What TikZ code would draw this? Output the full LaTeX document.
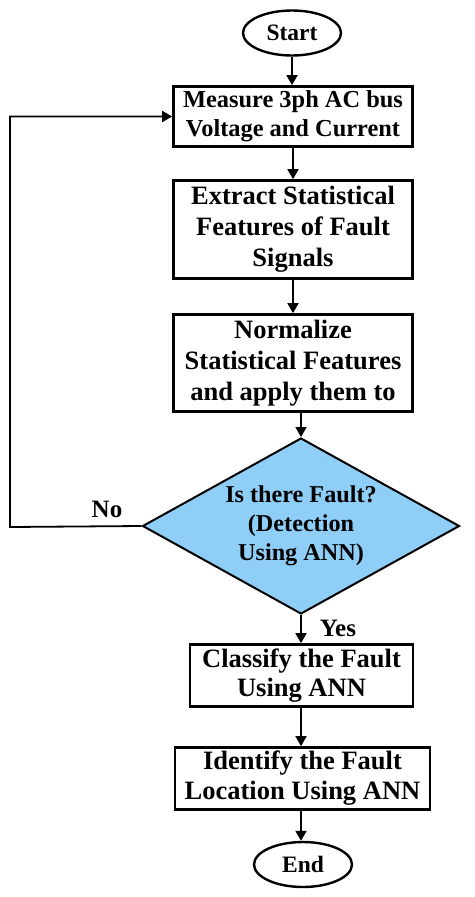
\documentclass[tikz,border=0pt]{standalone}
\usepackage{fontspec}
\setmainfont{Liberation Serif}
\usetikzlibrary{shapes.geometric,arrows.meta}
\definecolor{dfill}{RGB}{143,206,247}
\begin{document}
\begin{tikzpicture}[x=1pt,y=-1pt,
  box/.style={draw, line width=2.7pt, rectangle, inner sep=0pt, align=center},
  term/.style={draw, ellipse, line width=2.4pt, inner sep=0pt, minimum width=98pt, minimum height=45pt,
    font=\bfseries\fontsize{23.5}{28}\selectfont},
  arr/.style={line width=1.8pt, -{Triangle[length=10pt,width=11pt]}},
  lbl/.style={font=\bfseries\fontsize{25}{30}\selectfont, inner sep=0pt}]
\useasboundingbox (0,0) rectangle (474,897);

\node[term] (start) at (292,33) {Start};
\node[box, minimum width=239pt, minimum height=60pt, font=\bfseries\fontsize{24.4}{29}\selectfont]
  (b1) at (293,116.5) {Measure 3ph AC bus\\Voltage and Current};
\node[box, minimum width=239pt, minimum height=98pt, font=\bfseries\fontsize{26.5}{31}\selectfont]
  (b2) at (293,229.5) {Extract Statistical\\Features of Fault\\Signals};
\node[box, minimum width=239pt, minimum height=97pt, font=\bfseries\fontsize{26.5}{31}\selectfont]
  (b3) at (293,363) {Normalize\\Statistical Features\\and apply them to};
\node[draw, diamond, aspect=1.79, line width=2pt, fill=dfill, inner sep=0pt,
  minimum width=317pt, minimum height=176pt, align=center,
  font=\bfseries\fontsize{24.2}{29}\selectfont]
  (dia) at (301,526) {Is there Fault?\\(Detection\\Using ANN)};
\node[box, minimum width=223pt, minimum height=62pt, font=\bfseries\fontsize{26.5}{29.5}\selectfont]
  (b4) at (301.5,675.5) {Classify the Fault\\Using ANN};
\node[box, minimum width=255pt, minimum height=62pt, font=\bfseries\fontsize{26.5}{30}\selectfont]
  (b5) at (302.5,778.5) {Identify the Fault\\Location Using ANN};
\node[term] (end) at (303,864.5) {End};

\node[lbl] (no) at (107,509) {No};
\node[lbl] (yes) at (338,628.5) {Yes};

\coordinate (fb) at (10,527);

\draw[arr] (start.south) -- (start.south |- b1.north);
\draw[arr] (b1) -- (b2);
\draw[arr] (b2) -- (b3);
\draw[arr] (dia.north |- b3.south) -- (dia.north);
\draw[arr] (dia.south) -- (dia.south |- b4.north);
\draw[arr] (dia.south |- b4.south) -- (dia.south |- b5.north);
\draw[arr] (dia.south |- b5.south) -- (dia.south |- end.north);
\draw[arr] (dia.west) -- (fb) |- (b1.west);
\end{tikzpicture}
\end{document}
